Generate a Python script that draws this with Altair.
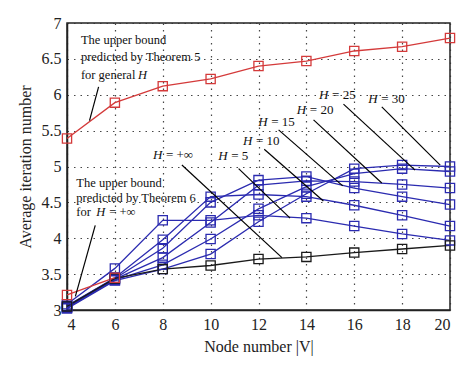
import altair as alt
import pandas as pd

# ---- data ----
nodes = [4, 6, 8, 10, 12, 14, 16, 18, 20]
y_ticks = [3, 3.5, 4, 4.5, 5, 5.5, 6, 6.5, 7]
thm5_bound = [5.39, 5.89, 6.12, 6.22, 6.40, 6.47, 6.61, 6.67, 6.79]
thm6_nodes = [4, 6]
thm6_bound = [3.21, 3.45]
h_inf = [3.05, 3.44, 3.57, 3.62, 3.71, 3.74, 3.80, 3.85, 3.90]
h5 = [3.08, 3.58, 4.25, 4.25, 4.32, 4.28, 4.17, 4.06, 3.97]
h10 = [3.06, 3.45, 3.98, 4.58, 4.61, 4.58, 4.46, 4.32, 4.17]
h15 = [3.05, 3.44, 3.86, 4.50, 4.81, 4.86, 4.70, 4.58, 4.47]
h20 = [3.04, 3.43, 3.73, 4.22, 4.74, 4.80, 4.79, 4.75, 4.70]
h25 = [3.03, 3.42, 3.63, 3.99, 4.41, 4.72, 4.90, 4.97, 4.93]
h30 = [3.02, 3.41, 3.57, 3.78, 4.23, 4.62, 4.97, 5.02, 5.00]

series_names = ["thm5", "h30", "h25", "h20", "h15", "h10", "h5", "hinf", "thm6"]
series_colors = ["#d43a3a", "#2b2bb0", "#2b2bb0", "#2b2bb0", "#2b2bb0", "#2b2bb0",
                 "#2b2bb0", "#1a1a1a", "#d43a3a"]

# annotation labels
h_label_rest = ["= +\u221e", "= 5", "= 10", "= 15", "= 20", "= 25", "= 30"]
h_label_x = [7.59, 10.32, 11.35, 11.99, 13.60, 14.53, 16.58]
h_label_y = [5.16, 5.15, 5.36, 5.62, 5.79, 6.00, 5.94]

arrow_x = [8.80, 11.17, 12.24, 12.84, 14.30, 15.55, 17.15, 5.32, 5.18]
arrow_y = [5.02, 4.97, 5.24, 5.51, 5.65, 5.87, 5.83, 6.11, 4.18]
arrow_x2 = [12.98, 13.32, 14.71, 15.52, 17.15, 18.54, 19.59, 4.94, 4.35]
arrow_y2 = [3.73, 4.28, 4.52, 4.73, 4.77, 4.95, 5.02, 5.64, 3.19]

thm5_text = ["The upper bound", "predicted by Theorem 5", "for general"]
thm5_text_x = 4.58
thm5_text_y = [6.77, 6.52, 6.28]
thm6_text = ["The upper bound", "predicted by Theorem 6", "for"]
thm6_text_x = 4.39
thm6_text_y = [4.77, 4.56, 4.36]

# ---- build tables ----
rows = []
for name, vals in [("thm5", thm5_bound), ("h30", h30), ("h25", h25), ("h20", h20),
                   ("h15", h15), ("h10", h10), ("h5", h5), ("hinf", h_inf)]:
    for n, v in zip(nodes, vals):
        rows.append({"series": name, "n": n, "v": v})
for n, v in zip(thm6_nodes, thm6_bound):
    rows.append({"series": "thm6", "n": n, "v": v})
df = pd.DataFrame(rows)

FONT = "Liberation Serif"

xs = alt.Scale(domain=[4, 20], nice=False)
ys = alt.Scale(domain=[3, 7], nice=False)
x_axis = alt.Axis(values=nodes, title="Node number |V|", format="d")
y_axis = alt.Axis(values=y_ticks, title="Average iteration number", format="~g")


def ax(field):
    return alt.X(field, type="quantitative", scale=xs, axis=x_axis)


def ay(field):
    return alt.Y(field, type="quantitative", scale=ys, axis=y_axis)


color = alt.Color("series:N", scale=alt.Scale(domain=series_names, range=series_colors), legend=None)

base = alt.Chart(df).encode(
    x=ax("n"),
    y=ay("v"),
    color=color,
    detail="series:N",
    order=alt.Order("n:Q"),
)
lines = base.mark_line(strokeWidth=1.3)
points = base.mark_point(shape="square", filled=False, size=85, strokeWidth=1.3, opacity=1)

arrows_df = pd.DataFrame({"x": arrow_x, "y": arrow_y, "x2": arrow_x2, "y2": arrow_y2})
arrows = alt.Chart(arrows_df).mark_rule(color="black", strokeWidth=1.2).encode(
    x=ax("x"), y=ay("y"), x2="x2:Q", y2="y2:Q")

hl_df = pd.DataFrame({"x": h_label_x, "y": h_label_y, "rest": h_label_rest})
h_italic = alt.Chart(hl_df).mark_text(
    text="H", fontStyle="italic", font=FONT, fontSize=13, align="left", baseline="middle",
    color="#111").encode(x=ax("x"), y=ay("y"))
h_rest = alt.Chart(hl_df).mark_text(
    font=FONT, fontSize=13, align="left", baseline="middle", dx=13, color="#111").encode(
    x=ax("x"), y=ay("y"), text="rest:N")

t_df = pd.DataFrame({
    "x": [thm5_text_x] * 3 + [thm6_text_x] * 3,
    "y": thm5_text_y + thm6_text_y,
    "t": thm5_text + thm6_text,
})
t_plain = alt.Chart(t_df).mark_text(
    font=FONT, fontSize=12.5, align="left", baseline="middle", color="#111").encode(
    x=ax("x"), y=ay("y"), text="t:N")

t5h_df = pd.DataFrame({"x": [thm5_text_x], "y": [thm5_text_y[2]]})
t5_h = alt.Chart(t5h_df).mark_text(
    text="H", fontStyle="italic", font=FONT, fontSize=12.5, align="left", baseline="middle",
    dx=57, color="#111").encode(x=ax("x"), y=ay("y"))
t6h_df = pd.DataFrame({"x": [thm6_text_x], "y": [thm6_text_y[2]]})
t6_h = alt.Chart(t6h_df).mark_text(
    text="H", fontStyle="italic", font=FONT, fontSize=12.5, align="left", baseline="middle",
    dx=20, color="#111").encode(x=ax("x"), y=ay("y"))
t6_rest = alt.Chart(t6h_df).mark_text(
    text="= +\u221e", font=FONT, fontSize=12.5, align="left", baseline="middle",
    dx=33, color="#111").encode(x=ax("x"), y=ay("y"))

chart = alt.layer(
    lines, points, arrows, h_italic, h_rest, t_plain, t5_h, t6_h, t6_rest
).properties(
    width=383, height=287,
    autosize=alt.AutoSizeParams(type="none"),
    padding={"left": 59, "top": 15, "right": 10, "bottom": 55},
    background="white",
).configure_view(
    stroke="#222", strokeWidth=1.5
).configure_axis(
    labelFont=FONT, labelFontSize=16, labelColor="#222",
    titleFont=FONT, titleFontSize=16, titleFontWeight="normal", titleColor="#222",
    domainColor="#222", domainWidth=1.5,
    ticks=False, labelPadding=6, labelOverlap=False,
    grid=True, gridColor="#333", gridDash=[1.5, 5], gridWidth=1.2, gridOpacity=0.9,
).configure_axisX(
    titlePadding=6
).configure_axisY(
    titlePadding=8
)

chart.save("out.html", embed_options={"renderer": "svg", "actions": False})
